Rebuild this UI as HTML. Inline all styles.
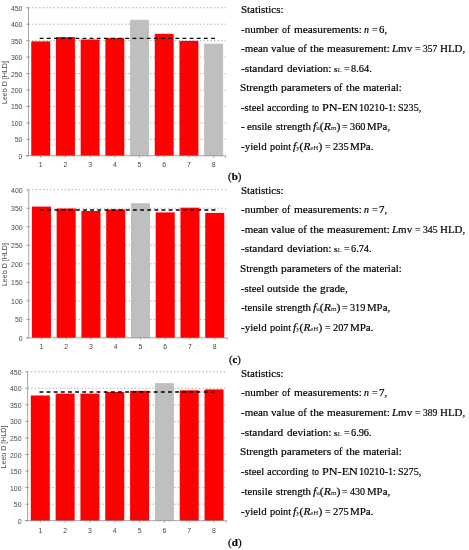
<!DOCTYPE html>
<html><head><meta charset="utf-8"><title>Leeb hardness</title>
<style>
html,body{margin:0;padding:0;background:#fff}
body{width:469px;height:550px;position:relative;overflow:hidden}
.ax{font-family:"Liberation Sans",sans-serif;font-size:6.9px;fill:#484848}
.t{position:absolute;left:0;width:469px;height:24px;line-height:24px;white-space:nowrap;font-family:"Liberation Serif",serif;font-size:10.8px;color:#000;-webkit-text-stroke:0.2px #000}
.g{position:absolute;top:0;transform-origin:0 0;height:24px;line-height:24px;white-space:nowrap}
.g::after{content:"";display:inline-block;height:20px;vertical-align:baseline}
.sb{font-size:6.6px;-webkit-text-stroke:0}
.sm{font-size:9.2px}
.eq{font-size:9.6px}
i.s{font-size:9.6px}
</style></head><body>
<svg width="469" height="550" viewBox="0 0 469 550" style="position:absolute;left:0;top:0">
<line x1="28.50" y1="139.35" x2="226.00" y2="139.35" stroke="#969696" stroke-width="0.8" stroke-dasharray="1.4 2.17"/>
<line x1="28.50" y1="122.90" x2="226.00" y2="122.90" stroke="#969696" stroke-width="0.8" stroke-dasharray="1.4 2.17"/>
<line x1="28.50" y1="106.45" x2="226.00" y2="106.45" stroke="#969696" stroke-width="0.8" stroke-dasharray="1.4 2.17"/>
<line x1="28.50" y1="90.00" x2="226.00" y2="90.00" stroke="#969696" stroke-width="0.8" stroke-dasharray="1.4 2.17"/>
<line x1="28.50" y1="73.55" x2="226.00" y2="73.55" stroke="#969696" stroke-width="0.8" stroke-dasharray="1.4 2.17"/>
<line x1="28.50" y1="57.10" x2="226.00" y2="57.10" stroke="#969696" stroke-width="0.8" stroke-dasharray="1.4 2.17"/>
<line x1="28.50" y1="40.65" x2="226.00" y2="40.65" stroke="#969696" stroke-width="0.8" stroke-dasharray="1.4 2.17"/>
<line x1="28.50" y1="24.20" x2="226.00" y2="24.20" stroke="#969696" stroke-width="0.8" stroke-dasharray="1.4 2.17"/>
<line x1="28.50" y1="7.75" x2="226.00" y2="7.75" stroke="#969696" stroke-width="0.8" stroke-dasharray="1.4 2.17"/>
<rect x="31.25" y="41.35" width="18.95" height="114.45" fill="#ff0000"/>
<rect x="55.95" y="37.10" width="18.95" height="118.70" fill="#ff0000"/>
<rect x="80.65" y="39.50" width="18.95" height="116.30" fill="#ff0000"/>
<rect x="105.35" y="38.10" width="18.95" height="117.70" fill="#ff0000"/>
<rect x="130.05" y="19.80" width="18.95" height="136.00" fill="#bfbfbf"/>
<rect x="154.75" y="33.80" width="18.95" height="122.00" fill="#ff0000"/>
<rect x="179.45" y="40.90" width="18.95" height="114.90" fill="#ff0000"/>
<rect x="204.15" y="43.70" width="18.95" height="112.10" fill="#bfbfbf"/>
<line x1="28.50" y1="7.75" x2="28.50" y2="156.10" stroke="#7f7f7f" stroke-width="0.7"/>
<line x1="26.00" y1="155.80" x2="226.00" y2="155.80" stroke="#7f7f7f" stroke-width="0.7"/>
<line x1="26.00" y1="155.80" x2="28.50" y2="155.80" stroke="#7f7f7f" stroke-width="0.7"/>
<text x="22.40" y="158.80" text-anchor="end" class="ax">0</text>
<line x1="26.00" y1="139.35" x2="28.50" y2="139.35" stroke="#7f7f7f" stroke-width="0.7"/>
<text x="22.40" y="142.35" text-anchor="end" class="ax">50</text>
<line x1="26.00" y1="122.90" x2="28.50" y2="122.90" stroke="#7f7f7f" stroke-width="0.7"/>
<text x="22.40" y="125.90" text-anchor="end" class="ax">100</text>
<line x1="26.00" y1="106.45" x2="28.50" y2="106.45" stroke="#7f7f7f" stroke-width="0.7"/>
<text x="22.40" y="109.45" text-anchor="end" class="ax">150</text>
<line x1="26.00" y1="90.00" x2="28.50" y2="90.00" stroke="#7f7f7f" stroke-width="0.7"/>
<text x="22.40" y="93.00" text-anchor="end" class="ax">200</text>
<line x1="26.00" y1="73.55" x2="28.50" y2="73.55" stroke="#7f7f7f" stroke-width="0.7"/>
<text x="22.40" y="76.55" text-anchor="end" class="ax">250</text>
<line x1="26.00" y1="57.10" x2="28.50" y2="57.10" stroke="#7f7f7f" stroke-width="0.7"/>
<text x="22.40" y="60.10" text-anchor="end" class="ax">300</text>
<line x1="26.00" y1="40.65" x2="28.50" y2="40.65" stroke="#7f7f7f" stroke-width="0.7"/>
<text x="22.40" y="43.65" text-anchor="end" class="ax">350</text>
<line x1="26.00" y1="24.20" x2="28.50" y2="24.20" stroke="#7f7f7f" stroke-width="0.7"/>
<text x="22.40" y="27.20" text-anchor="end" class="ax">400</text>
<line x1="26.00" y1="7.75" x2="28.50" y2="7.75" stroke="#7f7f7f" stroke-width="0.7"/>
<text x="22.40" y="10.75" text-anchor="end" class="ax">450</text>
<line x1="40.73" y1="155.80" x2="40.73" y2="157.80" stroke="#7f7f7f" stroke-width="0.7"/>
<line x1="65.42" y1="155.80" x2="65.42" y2="157.80" stroke="#7f7f7f" stroke-width="0.7"/>
<line x1="90.12" y1="155.80" x2="90.12" y2="157.80" stroke="#7f7f7f" stroke-width="0.7"/>
<line x1="114.82" y1="155.80" x2="114.82" y2="157.80" stroke="#7f7f7f" stroke-width="0.7"/>
<line x1="139.53" y1="155.80" x2="139.53" y2="157.80" stroke="#7f7f7f" stroke-width="0.7"/>
<line x1="164.22" y1="155.80" x2="164.22" y2="157.80" stroke="#7f7f7f" stroke-width="0.7"/>
<line x1="188.92" y1="155.80" x2="188.92" y2="157.80" stroke="#7f7f7f" stroke-width="0.7"/>
<line x1="213.62" y1="155.80" x2="213.62" y2="157.80" stroke="#7f7f7f" stroke-width="0.7"/>
<line x1="225.70" y1="155.80" x2="225.70" y2="157.80" stroke="#7f7f7f" stroke-width="0.7"/>
<text x="40.73" y="167.30" text-anchor="middle" class="ax">1</text>
<text x="65.42" y="167.30" text-anchor="middle" class="ax">2</text>
<text x="90.12" y="167.30" text-anchor="middle" class="ax">3</text>
<text x="114.82" y="167.30" text-anchor="middle" class="ax">4</text>
<text x="139.53" y="167.30" text-anchor="middle" class="ax">5</text>
<text x="164.22" y="167.30" text-anchor="middle" class="ax">6</text>
<text x="188.92" y="167.30" text-anchor="middle" class="ax">7</text>
<text x="213.62" y="167.30" text-anchor="middle" class="ax">8</text>
<line x1="39.70" y1="38.40" x2="214.86" y2="38.40" stroke="#000" stroke-width="1.3" stroke-dasharray="3.8 3.34"/>
<text transform="translate(6.9 82.58) rotate(-90)" text-anchor="middle" class="ax" style="font-size:7.1px">Leeb D [HLD]</text>
<line x1="28.70" y1="319.38" x2="227.40" y2="319.38" stroke="#969696" stroke-width="0.8" stroke-dasharray="1.4 2.17"/>
<line x1="28.70" y1="300.86" x2="227.40" y2="300.86" stroke="#969696" stroke-width="0.8" stroke-dasharray="1.4 2.17"/>
<line x1="28.70" y1="282.34" x2="227.40" y2="282.34" stroke="#969696" stroke-width="0.8" stroke-dasharray="1.4 2.17"/>
<line x1="28.70" y1="263.82" x2="227.40" y2="263.82" stroke="#969696" stroke-width="0.8" stroke-dasharray="1.4 2.17"/>
<line x1="28.70" y1="245.30" x2="227.40" y2="245.30" stroke="#969696" stroke-width="0.8" stroke-dasharray="1.4 2.17"/>
<line x1="28.70" y1="226.78" x2="227.40" y2="226.78" stroke="#969696" stroke-width="0.8" stroke-dasharray="1.4 2.17"/>
<line x1="28.70" y1="208.26" x2="227.40" y2="208.26" stroke="#969696" stroke-width="0.8" stroke-dasharray="1.4 2.17"/>
<line x1="28.70" y1="189.74" x2="227.40" y2="189.74" stroke="#969696" stroke-width="0.8" stroke-dasharray="1.4 2.17"/>
<rect x="31.90" y="206.60" width="19.05" height="131.30" fill="#ff0000"/>
<rect x="56.66" y="208.50" width="19.05" height="129.40" fill="#ff0000"/>
<rect x="81.42" y="211.00" width="19.05" height="126.90" fill="#ff0000"/>
<rect x="106.18" y="209.40" width="19.05" height="128.50" fill="#ff0000"/>
<rect x="130.94" y="203.20" width="19.05" height="134.70" fill="#bfbfbf"/>
<rect x="155.70" y="212.40" width="19.05" height="125.50" fill="#ff0000"/>
<rect x="180.46" y="207.70" width="19.05" height="130.20" fill="#ff0000"/>
<rect x="205.22" y="212.90" width="19.05" height="125.00" fill="#ff0000"/>
<line x1="28.70" y1="189.74" x2="28.70" y2="338.20" stroke="#7f7f7f" stroke-width="0.7"/>
<line x1="26.20" y1="337.90" x2="227.40" y2="337.90" stroke="#7f7f7f" stroke-width="0.7"/>
<line x1="26.20" y1="337.90" x2="28.70" y2="337.90" stroke="#7f7f7f" stroke-width="0.7"/>
<text x="22.60" y="340.90" text-anchor="end" class="ax">0</text>
<line x1="26.20" y1="319.38" x2="28.70" y2="319.38" stroke="#7f7f7f" stroke-width="0.7"/>
<text x="22.60" y="322.38" text-anchor="end" class="ax">50</text>
<line x1="26.20" y1="300.86" x2="28.70" y2="300.86" stroke="#7f7f7f" stroke-width="0.7"/>
<text x="22.60" y="303.86" text-anchor="end" class="ax">100</text>
<line x1="26.20" y1="282.34" x2="28.70" y2="282.34" stroke="#7f7f7f" stroke-width="0.7"/>
<text x="22.60" y="285.34" text-anchor="end" class="ax">150</text>
<line x1="26.20" y1="263.82" x2="28.70" y2="263.82" stroke="#7f7f7f" stroke-width="0.7"/>
<text x="22.60" y="266.82" text-anchor="end" class="ax">200</text>
<line x1="26.20" y1="245.30" x2="28.70" y2="245.30" stroke="#7f7f7f" stroke-width="0.7"/>
<text x="22.60" y="248.30" text-anchor="end" class="ax">250</text>
<line x1="26.20" y1="226.78" x2="28.70" y2="226.78" stroke="#7f7f7f" stroke-width="0.7"/>
<text x="22.60" y="229.78" text-anchor="end" class="ax">300</text>
<line x1="26.20" y1="208.26" x2="28.70" y2="208.26" stroke="#7f7f7f" stroke-width="0.7"/>
<text x="22.60" y="211.26" text-anchor="end" class="ax">350</text>
<line x1="26.20" y1="189.74" x2="28.70" y2="189.74" stroke="#7f7f7f" stroke-width="0.7"/>
<text x="22.60" y="192.74" text-anchor="end" class="ax">400</text>
<line x1="41.42" y1="337.90" x2="41.42" y2="339.90" stroke="#7f7f7f" stroke-width="0.7"/>
<line x1="66.19" y1="337.90" x2="66.19" y2="339.90" stroke="#7f7f7f" stroke-width="0.7"/>
<line x1="90.95" y1="337.90" x2="90.95" y2="339.90" stroke="#7f7f7f" stroke-width="0.7"/>
<line x1="115.71" y1="337.90" x2="115.71" y2="339.90" stroke="#7f7f7f" stroke-width="0.7"/>
<line x1="140.47" y1="337.90" x2="140.47" y2="339.90" stroke="#7f7f7f" stroke-width="0.7"/>
<line x1="165.23" y1="337.90" x2="165.23" y2="339.90" stroke="#7f7f7f" stroke-width="0.7"/>
<line x1="189.99" y1="337.90" x2="189.99" y2="339.90" stroke="#7f7f7f" stroke-width="0.7"/>
<line x1="214.75" y1="337.90" x2="214.75" y2="339.90" stroke="#7f7f7f" stroke-width="0.7"/>
<line x1="227.10" y1="337.90" x2="227.10" y2="339.90" stroke="#7f7f7f" stroke-width="0.7"/>
<text x="41.42" y="349.10" text-anchor="middle" class="ax">1</text>
<text x="66.19" y="349.10" text-anchor="middle" class="ax">2</text>
<text x="90.95" y="349.10" text-anchor="middle" class="ax">3</text>
<text x="115.71" y="349.10" text-anchor="middle" class="ax">4</text>
<text x="140.47" y="349.10" text-anchor="middle" class="ax">5</text>
<text x="165.23" y="349.10" text-anchor="middle" class="ax">6</text>
<text x="189.99" y="349.10" text-anchor="middle" class="ax">7</text>
<text x="214.75" y="349.10" text-anchor="middle" class="ax">8</text>
<line x1="40.20" y1="210.00" x2="215.36" y2="210.00" stroke="#000" stroke-width="1.3" stroke-dasharray="3.8 3.34"/>
<text transform="translate(7.4 264.62) rotate(-90)" text-anchor="middle" class="ax" style="font-size:7.1px">Leeb D [HLD]</text>
<line x1="27.60" y1="504.15" x2="226.70" y2="504.15" stroke="#969696" stroke-width="0.8" stroke-dasharray="1.4 2.17"/>
<line x1="27.60" y1="487.60" x2="226.70" y2="487.60" stroke="#969696" stroke-width="0.8" stroke-dasharray="1.4 2.17"/>
<line x1="27.60" y1="471.05" x2="226.70" y2="471.05" stroke="#969696" stroke-width="0.8" stroke-dasharray="1.4 2.17"/>
<line x1="27.60" y1="454.50" x2="226.70" y2="454.50" stroke="#969696" stroke-width="0.8" stroke-dasharray="1.4 2.17"/>
<line x1="27.60" y1="437.95" x2="226.70" y2="437.95" stroke="#969696" stroke-width="0.8" stroke-dasharray="1.4 2.17"/>
<line x1="27.60" y1="421.40" x2="226.70" y2="421.40" stroke="#969696" stroke-width="0.8" stroke-dasharray="1.4 2.17"/>
<line x1="27.60" y1="404.85" x2="226.70" y2="404.85" stroke="#969696" stroke-width="0.8" stroke-dasharray="1.4 2.17"/>
<line x1="27.60" y1="388.30" x2="226.70" y2="388.30" stroke="#969696" stroke-width="0.8" stroke-dasharray="1.4 2.17"/>
<line x1="27.60" y1="371.75" x2="226.70" y2="371.75" stroke="#969696" stroke-width="0.8" stroke-dasharray="1.4 2.17"/>
<rect x="30.80" y="395.50" width="19.00" height="125.20" fill="#ff0000"/>
<rect x="55.62" y="393.60" width="19.00" height="127.10" fill="#ff0000"/>
<rect x="80.44" y="393.60" width="19.00" height="127.10" fill="#ff0000"/>
<rect x="105.26" y="392.00" width="19.00" height="128.70" fill="#ff0000"/>
<rect x="130.08" y="390.80" width="19.00" height="129.90" fill="#ff0000"/>
<rect x="154.90" y="383.10" width="19.00" height="137.60" fill="#bfbfbf"/>
<rect x="179.72" y="390.30" width="19.00" height="130.40" fill="#ff0000"/>
<rect x="204.54" y="389.40" width="19.00" height="131.30" fill="#ff0000"/>
<line x1="27.60" y1="371.75" x2="27.60" y2="521.00" stroke="#7f7f7f" stroke-width="0.7"/>
<line x1="25.10" y1="520.70" x2="226.70" y2="520.70" stroke="#7f7f7f" stroke-width="0.7"/>
<line x1="25.10" y1="520.70" x2="27.60" y2="520.70" stroke="#7f7f7f" stroke-width="0.7"/>
<text x="21.50" y="523.70" text-anchor="end" class="ax">0</text>
<line x1="25.10" y1="504.15" x2="27.60" y2="504.15" stroke="#7f7f7f" stroke-width="0.7"/>
<text x="21.50" y="507.15" text-anchor="end" class="ax">50</text>
<line x1="25.10" y1="487.60" x2="27.60" y2="487.60" stroke="#7f7f7f" stroke-width="0.7"/>
<text x="21.50" y="490.60" text-anchor="end" class="ax">100</text>
<line x1="25.10" y1="471.05" x2="27.60" y2="471.05" stroke="#7f7f7f" stroke-width="0.7"/>
<text x="21.50" y="474.05" text-anchor="end" class="ax">150</text>
<line x1="25.10" y1="454.50" x2="27.60" y2="454.50" stroke="#7f7f7f" stroke-width="0.7"/>
<text x="21.50" y="457.50" text-anchor="end" class="ax">200</text>
<line x1="25.10" y1="437.95" x2="27.60" y2="437.95" stroke="#7f7f7f" stroke-width="0.7"/>
<text x="21.50" y="440.95" text-anchor="end" class="ax">250</text>
<line x1="25.10" y1="421.40" x2="27.60" y2="421.40" stroke="#7f7f7f" stroke-width="0.7"/>
<text x="21.50" y="424.40" text-anchor="end" class="ax">300</text>
<line x1="25.10" y1="404.85" x2="27.60" y2="404.85" stroke="#7f7f7f" stroke-width="0.7"/>
<text x="21.50" y="407.85" text-anchor="end" class="ax">350</text>
<line x1="25.10" y1="388.30" x2="27.60" y2="388.30" stroke="#7f7f7f" stroke-width="0.7"/>
<text x="21.50" y="391.30" text-anchor="end" class="ax">400</text>
<line x1="25.10" y1="371.75" x2="27.60" y2="371.75" stroke="#7f7f7f" stroke-width="0.7"/>
<text x="21.50" y="374.75" text-anchor="end" class="ax">450</text>
<line x1="40.30" y1="520.70" x2="40.30" y2="522.70" stroke="#7f7f7f" stroke-width="0.7"/>
<line x1="65.12" y1="520.70" x2="65.12" y2="522.70" stroke="#7f7f7f" stroke-width="0.7"/>
<line x1="89.94" y1="520.70" x2="89.94" y2="522.70" stroke="#7f7f7f" stroke-width="0.7"/>
<line x1="114.76" y1="520.70" x2="114.76" y2="522.70" stroke="#7f7f7f" stroke-width="0.7"/>
<line x1="139.58" y1="520.70" x2="139.58" y2="522.70" stroke="#7f7f7f" stroke-width="0.7"/>
<line x1="164.40" y1="520.70" x2="164.40" y2="522.70" stroke="#7f7f7f" stroke-width="0.7"/>
<line x1="189.22" y1="520.70" x2="189.22" y2="522.70" stroke="#7f7f7f" stroke-width="0.7"/>
<line x1="214.04" y1="520.70" x2="214.04" y2="522.70" stroke="#7f7f7f" stroke-width="0.7"/>
<line x1="226.40" y1="520.70" x2="226.40" y2="522.70" stroke="#7f7f7f" stroke-width="0.7"/>
<text x="40.30" y="532.60" text-anchor="middle" class="ax">1</text>
<text x="65.12" y="532.60" text-anchor="middle" class="ax">2</text>
<text x="89.94" y="532.60" text-anchor="middle" class="ax">3</text>
<text x="114.76" y="532.60" text-anchor="middle" class="ax">4</text>
<text x="139.58" y="532.60" text-anchor="middle" class="ax">5</text>
<text x="164.40" y="532.60" text-anchor="middle" class="ax">6</text>
<text x="189.22" y="532.60" text-anchor="middle" class="ax">7</text>
<text x="214.04" y="532.60" text-anchor="middle" class="ax">8</text>
<line x1="39.50" y1="392.00" x2="214.66" y2="392.00" stroke="#000" stroke-width="1.3" stroke-dasharray="3.8 3.34"/>
<text transform="translate(6.1 447.03) rotate(-90)" text-anchor="middle" class="ax" style="font-size:7.1px">Leeb D [HLD]</text>
</svg>
<div class="t" style="top:-7.20px"><span class="g" id="s0_0_0" style="left:240.78px;transform:scaleX(1.0125)">Statistics:</span></div>
<div class="t" style="top:12.60px"><span class="g" id="s0_1_0" style="left:241.23px;transform:scaleX(1.0206)">-number</span> <span class="g" id="s0_1_1" style="left:281.82px;transform:scaleX(0.9153)">of</span> <span class="g" id="s0_1_2" style="left:293.77px;transform:scaleX(1.0483)">measurements:</span> <span class="g" id="s0_1_3" style="left:364.26px;transform:scaleX(1.0300)"><i class="s">n</i></span> <span class="g" id="s0_1_4" style="left:371.94px;transform:scaleX(1.0300)"><span class="eq">=</span></span> <span class="g" id="s0_1_5" style="left:378.80px;transform:scaleX(0.9984)">6,</span></div>
<div class="t" style="top:31.80px"><span class="g" id="s0_2_0" style="left:241.30px;transform:scaleX(1.0132)">-mean</span> <span class="g" id="s0_2_1" style="left:270.86px;transform:scaleX(1.0214)">value</span> <span class="g" id="s0_2_2" style="left:298.49px;transform:scaleX(0.9604)">of</span> <span class="g" id="s0_2_3" style="left:309.99px;transform:scaleX(1.0557)">the</span> <span class="g" id="s0_2_4" style="left:326.97px;transform:scaleX(1.0371)">measurement:</span> <span class="g" id="s0_2_5" style="left:391.97px;transform:scaleX(1.0157)"><i>L</i>mv</span> <span class="g" id="s0_2_6" style="left:415.21px;transform:scaleX(1.0300)"><span class="eq">=</span></span> <span class="g" id="s0_2_7" style="left:422.54px;transform:scaleX(0.8703)">357</span> <span class="g" id="s0_2_8" style="left:439.83px;transform:scaleX(1.0119)">HLD,</span></div>
<div class="t" style="top:51.60px"><span class="g" id="s0_3_0" style="left:241.10px;transform:scaleX(1.0507)">-standard</span> <span class="g" id="s0_3_1" style="left:286.66px;transform:scaleX(1.0291)">deviation:</span> <span class="g" id="s0_3_2" style="left:333.84px;transform:scaleX(1.0139)"><span class="sm">s</span><span class="sb">L</span></span> <span class="g" id="s0_3_3" style="left:344.10px;transform:scaleX(1.0300)"><span class="eq">=</span></span> <span class="g" id="s0_3_4" style="left:351.25px;transform:scaleX(0.9596)">8.64.</span></div>
<div class="t" style="top:71.10px"><span class="g" id="s0_4_0" style="left:240.31px;transform:scaleX(1.0367)">Strength</span> <span class="g" id="s0_4_1" style="left:281.03px;transform:scaleX(1.0582)">parameters</span> <span class="g" id="s0_4_2" style="left:334.28px;transform:scaleX(0.9409)">of</span> <span class="g" id="s0_4_3" style="left:345.57px;transform:scaleX(1.0498)">the</span> <span class="g" id="s0_4_4" style="left:363.09px;transform:scaleX(1.0119)">material:</span></div>
<div class="t" style="top:90.80px"><span class="g" id="s0_5_0" style="left:240.51px;transform:scaleX(0.9880)">-steel</span> <span class="g" id="s0_5_1" style="left:266.65px;transform:scaleX(0.9721)">according</span> <span class="g" id="s0_5_2" style="left:311.50px;transform:scaleX(0.8273)">to</span> <span class="g" id="s0_5_3" style="left:321.94px;transform:scaleX(1.1296)">PN-EN</span> <span class="g" id="s0_5_4" style="left:359.01px;transform:scaleX(0.9459)">10210-1:</span> <span class="g" id="s0_5_5" style="left:398.31px;transform:scaleX(0.9303)">S235,</span></div>
<div class="t" style="top:110.30px"><span class="g" id="s0_6_0" style="left:240.61px;transform:scaleX(1.0300)">-</span> <span class="g" id="s0_6_1" style="left:246.76px;transform:scaleX(0.9989)">ensile</span> <span class="g" id="s0_6_2" style="left:275.80px;transform:scaleX(1.0075)">strength</span> <span class="g" id="s0_6_3" style="left:312.98px;transform:scaleX(1.0906)"><i>f</i><span class="sb">u</span>(<i>R</i><span class="sb">m</span>)</span> <span class="g" id="s0_6_4" style="left:341.92px;transform:scaleX(1.0300)"><span class="eq">=</span></span> <span class="g" id="s0_6_5" style="left:350.01px;transform:scaleX(0.9522)">360</span> <span class="g" id="s0_6_6" style="left:367.38px;transform:scaleX(1.0001)">MPa,</span></div>
<div class="t" style="top:129.80px"><span class="g" id="s0_7_0" style="left:240.79px;transform:scaleX(1.0200)">-yield</span> <span class="g" id="s0_7_1" style="left:269.80px;transform:scaleX(0.9498)">point</span> <span class="g" id="s0_7_2" style="left:292.94px;transform:scaleX(1.0478)"><i>f</i><span class="sb">y</span>(<i>R</i><span class="sb">eH</span>)</span> <span class="g" id="s0_7_3" style="left:324.93px;transform:scaleX(1.0300)"><span class="eq">=</span></span> <span class="g" id="s0_7_4" style="left:332.53px;transform:scaleX(0.9690)">235</span> <span class="g" id="s0_7_5" style="left:350.37px;transform:scaleX(1.0157)">MPa.</span></div>
<div class="t" style="top:159.60px"><span class="g" id="lb0" style="left:228.33px;transform:scaleX(1.0123)">(<b>b</b>)</span></div>
<div class="t" style="top:173.60px"><span class="g" id="s1_0_0" style="left:240.78px;transform:scaleX(1.0125)">Statistics:</span></div>
<div class="t" style="top:193.10px"><span class="g" id="s1_1_0" style="left:241.23px;transform:scaleX(1.0206)">-number</span> <span class="g" id="s1_1_1" style="left:281.82px;transform:scaleX(0.9153)">of</span> <span class="g" id="s1_1_2" style="left:293.77px;transform:scaleX(1.0483)">measurements:</span> <span class="g" id="s1_1_3" style="left:364.26px;transform:scaleX(1.0300)"><i class="s">n</i></span> <span class="g" id="s1_1_4" style="left:371.94px;transform:scaleX(1.0300)"><span class="eq">=</span></span> <span class="g" id="s1_1_5" style="left:378.59px;transform:scaleX(1.0157)">7,</span></div>
<div class="t" style="top:212.70px"><span class="g" id="s1_2_0" style="left:241.30px;transform:scaleX(1.0132)">-mean</span> <span class="g" id="s1_2_1" style="left:270.86px;transform:scaleX(1.0214)">value</span> <span class="g" id="s1_2_2" style="left:298.49px;transform:scaleX(0.9604)">of</span> <span class="g" id="s1_2_3" style="left:309.99px;transform:scaleX(1.0557)">the</span> <span class="g" id="s1_2_4" style="left:326.97px;transform:scaleX(1.0371)">measurement:</span> <span class="g" id="s1_2_5" style="left:391.97px;transform:scaleX(1.0157)"><i>L</i>mv</span> <span class="g" id="s1_2_6" style="left:415.21px;transform:scaleX(1.0300)"><span class="eq">=</span></span> <span class="g" id="s1_2_7" style="left:422.79px;transform:scaleX(0.9012)">345</span> <span class="g" id="s1_2_8" style="left:439.83px;transform:scaleX(1.0119)">HLD,</span></div>
<div class="t" style="top:232.20px"><span class="g" id="s1_3_0" style="left:241.10px;transform:scaleX(1.0507)">-standard</span> <span class="g" id="s1_3_1" style="left:286.66px;transform:scaleX(1.0291)">deviation:</span> <span class="g" id="s1_3_2" style="left:333.84px;transform:scaleX(1.0139)"><span class="sm">s</span><span class="sb">L</span></span> <span class="g" id="s1_3_3" style="left:344.10px;transform:scaleX(1.0300)"><span class="eq">=</span></span> <span class="g" id="s1_3_4" style="left:351.14px;transform:scaleX(0.9509)">6.74.</span></div>
<div class="t" style="top:252.00px"><span class="g" id="s1_4_0" style="left:240.31px;transform:scaleX(1.0367)">Strength</span> <span class="g" id="s1_4_1" style="left:281.03px;transform:scaleX(1.0582)">parameters</span> <span class="g" id="s1_4_2" style="left:334.28px;transform:scaleX(0.9409)">of</span> <span class="g" id="s1_4_3" style="left:345.57px;transform:scaleX(1.0498)">the</span> <span class="g" id="s1_4_4" style="left:363.09px;transform:scaleX(1.0119)">material:</span></div>
<div class="t" style="top:271.60px"><span class="g" id="s1_5_0" style="left:241.29px;transform:scaleX(0.9960)">-steel</span> <span class="g" id="s1_5_1" style="left:267.47px;transform:scaleX(1.0277)">outside</span> <span class="g" id="s1_5_2" style="left:302.63px;transform:scaleX(1.0561)">the</span> <span class="g" id="s1_5_3" style="left:319.83px;transform:scaleX(1.0471)">grade,</span></div>
<div class="t" style="top:291.40px"><span class="g" id="s1_6_0" style="left:240.62px;transform:scaleX(0.9894)">-tensile</span> <span class="g" id="s1_6_1" style="left:275.51px;transform:scaleX(1.0074)">strength</span> <span class="g" id="s1_6_2" style="left:312.70px;transform:scaleX(1.0888)"><i>f</i><span class="sb">u</span>(<i>R</i><span class="sb">m</span>)</span> <span class="g" id="s1_6_3" style="left:342.04px;transform:scaleX(1.0300)"><span class="eq">=</span></span> <span class="g" id="s1_6_4" style="left:349.97px;transform:scaleX(0.9476)">319</span> <span class="g" id="s1_6_5" style="left:367.17px;transform:scaleX(1.0020)">MPa,</span></div>
<div class="t" style="top:311.00px"><span class="g" id="s1_7_0" style="left:240.79px;transform:scaleX(1.0200)">-yield</span> <span class="g" id="s1_7_1" style="left:269.80px;transform:scaleX(0.9498)">point</span> <span class="g" id="s1_7_2" style="left:292.94px;transform:scaleX(1.0478)"><i>f</i><span class="sb">y</span>(<i>R</i><span class="sb">eH</span>)</span> <span class="g" id="s1_7_3" style="left:324.93px;transform:scaleX(1.0300)"><span class="eq">=</span></span> <span class="g" id="s1_7_4" style="left:332.73px;transform:scaleX(0.9582)">207</span> <span class="g" id="s1_7_5" style="left:350.37px;transform:scaleX(1.0157)">MPa.</span></div>
<div class="t" style="top:343.00px"><span class="g" id="lb1" style="left:229.32px;transform:scaleX(0.9897)">(<b>c</b>)</span></div>
<div class="t" style="top:356.70px"><span class="g" id="s2_0_0" style="left:240.78px;transform:scaleX(1.0125)">Statistics:</span></div>
<div class="t" style="top:376.40px"><span class="g" id="s2_1_0" style="left:241.23px;transform:scaleX(1.0206)">-number</span> <span class="g" id="s2_1_1" style="left:281.82px;transform:scaleX(0.9153)">of</span> <span class="g" id="s2_1_2" style="left:293.77px;transform:scaleX(1.0483)">measurements:</span> <span class="g" id="s2_1_3" style="left:364.26px;transform:scaleX(1.0300)"><i class="s">n</i></span> <span class="g" id="s2_1_4" style="left:371.94px;transform:scaleX(1.0300)"><span class="eq">=</span></span> <span class="g" id="s2_1_5" style="left:378.59px;transform:scaleX(1.0157)">7,</span></div>
<div class="t" style="top:395.80px"><span class="g" id="s2_2_0" style="left:241.30px;transform:scaleX(1.0132)">-mean</span> <span class="g" id="s2_2_1" style="left:270.86px;transform:scaleX(1.0214)">value</span> <span class="g" id="s2_2_2" style="left:298.49px;transform:scaleX(0.9604)">of</span> <span class="g" id="s2_2_3" style="left:309.99px;transform:scaleX(1.0557)">the</span> <span class="g" id="s2_2_4" style="left:326.97px;transform:scaleX(1.0371)">measurement:</span> <span class="g" id="s2_2_5" style="left:391.97px;transform:scaleX(1.0157)"><i>L</i>mv</span> <span class="g" id="s2_2_6" style="left:415.21px;transform:scaleX(1.0300)"><span class="eq">=</span></span> <span class="g" id="s2_2_7" style="left:423.00px;transform:scaleX(0.8873)">389</span> <span class="g" id="s2_2_8" style="left:439.83px;transform:scaleX(1.0119)">HLD,</span></div>
<div class="t" style="top:415.50px"><span class="g" id="s2_3_0" style="left:241.10px;transform:scaleX(1.0507)">-standard</span> <span class="g" id="s2_3_1" style="left:286.66px;transform:scaleX(1.0291)">deviation:</span> <span class="g" id="s2_3_2" style="left:333.84px;transform:scaleX(1.0139)"><span class="sm">s</span><span class="sb">L</span></span> <span class="g" id="s2_3_3" style="left:344.10px;transform:scaleX(1.0300)"><span class="eq">=</span></span> <span class="g" id="s2_3_4" style="left:351.14px;transform:scaleX(0.9509)">6.96.</span></div>
<div class="t" style="top:435.20px"><span class="g" id="s2_4_0" style="left:240.31px;transform:scaleX(1.0367)">Strength</span> <span class="g" id="s2_4_1" style="left:281.03px;transform:scaleX(1.0582)">parameters</span> <span class="g" id="s2_4_2" style="left:334.28px;transform:scaleX(0.9409)">of</span> <span class="g" id="s2_4_3" style="left:345.57px;transform:scaleX(1.0498)">the</span> <span class="g" id="s2_4_4" style="left:363.09px;transform:scaleX(1.0119)">material:</span></div>
<div class="t" style="top:454.90px"><span class="g" id="s2_5_0" style="left:240.51px;transform:scaleX(0.9880)">-steel</span> <span class="g" id="s2_5_1" style="left:266.65px;transform:scaleX(0.9721)">according</span> <span class="g" id="s2_5_2" style="left:311.50px;transform:scaleX(0.8273)">to</span> <span class="g" id="s2_5_3" style="left:321.94px;transform:scaleX(1.1296)">PN-EN</span> <span class="g" id="s2_5_4" style="left:359.01px;transform:scaleX(0.9459)">10210-1:</span> <span class="g" id="s2_5_5" style="left:398.31px;transform:scaleX(0.9303)">S275,</span></div>
<div class="t" style="top:474.50px"><span class="g" id="s2_6_0" style="left:240.62px;transform:scaleX(0.9894)">-tensile</span> <span class="g" id="s2_6_1" style="left:275.51px;transform:scaleX(1.0074)">strength</span> <span class="g" id="s2_6_2" style="left:312.70px;transform:scaleX(1.0888)"><i>f</i><span class="sb">u</span>(<i>R</i><span class="sb">m</span>)</span> <span class="g" id="s2_6_3" style="left:342.04px;transform:scaleX(1.0300)"><span class="eq">=</span></span> <span class="g" id="s2_6_4" style="left:349.74px;transform:scaleX(0.9314)">430</span> <span class="g" id="s2_6_5" style="left:367.17px;transform:scaleX(1.0020)">MPa,</span></div>
<div class="t" style="top:494.50px"><span class="g" id="s2_7_0" style="left:240.79px;transform:scaleX(1.0200)">-yield</span> <span class="g" id="s2_7_1" style="left:269.80px;transform:scaleX(0.9498)">point</span> <span class="g" id="s2_7_2" style="left:292.94px;transform:scaleX(1.0478)"><i>f</i><span class="sb">y</span>(<i>R</i><span class="sb">eH</span>)</span> <span class="g" id="s2_7_3" style="left:324.93px;transform:scaleX(1.0300)"><span class="eq">=</span></span> <span class="g" id="s2_7_4" style="left:332.53px;transform:scaleX(0.9690)">275</span> <span class="g" id="s2_7_5" style="left:350.37px;transform:scaleX(1.0157)">MPa.</span></div>
<div class="t" style="top:525.50px"><span class="g" id="lb2" style="left:228.33px;transform:scaleX(1.0264)">(<b>d</b>)</span></div>
</body></html>
